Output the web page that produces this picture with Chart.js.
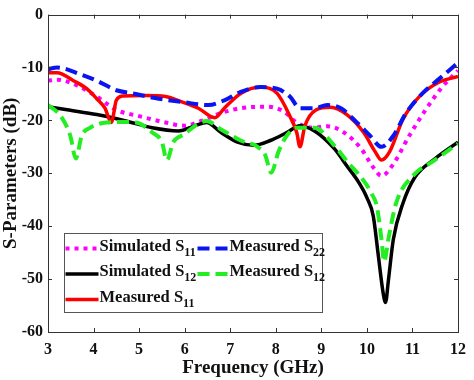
<!DOCTYPE html>
<html>
<head>
<meta charset="utf-8">
<script src="https://cdn.jsdelivr.net/npm/chart.js@4"></script>
<style>
  html, body { margin: 0; padding: 0; background: #fff; }
  #wrap { width: 474px; height: 380px; }
</style>
</head>
<body>
<div id="wrap"><canvas id="c" width="474" height="380"></canvas></div>
<script>
// series data (frequency in GHz, level in dB)
const simS11Freq = [3, 3.2, 3.64, 4.07, 4.5, 5.0, 5.58, 6.0, 6.37, 6.8, 7.23, 7.81, 8.17, 8.46, 8.81, 9.13, 9.5, 9.87, 10.15, 10.32, 10.57, 10.93, 11.29, 11.65, 12];
const simS11 = [-12.5, -12.3, -13.4, -15.5, -18, -19.2, -20.4, -21, -20.1, -18.6, -17.7, -17.4, -18.3, -20.4, -21.4, -21.1, -22.3, -25.3, -29, -30.5, -28.4, -22.9, -18, -13.7, -10.6];

const simS12Freq = [3, 3.42, 4.07, 4.71, 5.29, 5.86, 6.23, 6.48, 6.8, 7.16, 7.52, 7.88, 8.24, 8.53, 8.85, 9.28, 9.57, 9.82, 10.0, 10.14, 10.25, 10.36, 10.41, 10.47, 10.58, 10.79, 11.05, 11.5, 12];
const simS12 = [-17.4, -18, -18.9, -20.1, -21.4, -22, -21, -20.4, -22.3, -24.1, -24.7, -23.8, -22.3, -21, -22, -25.3, -28.7, -31.7, -34.6, -38.1, -45.5, -52.8, -54.4, -50.4, -42.5, -35.7, -30.8, -27.2, -24.1];

const measS11Freq = [3, 3.2, 3.56, 3.85, 4.07, 4.25, 4.39, 4.5, 4.64, 5.14, 5.58, 5.94, 6.3, 6.66, 6.87, 7.23, 7.67, 8.03, 8.31, 8.46, 8.53, 8.64, 8.89, 9.2, 9.56, 9.93, 10.18, 10.32, 10.5, 10.79, 11.15, 11.58, 12];
const measS11 = [-11, -11, -12.5, -14, -15.9, -17.7, -20.4, -16.2, -15.4, -15.3, -15.5, -16.5, -17.7, -19.5, -17.7, -14.9, -13.7, -14.9, -19.2, -22.3, -25, -21, -18, -17.5, -18.9, -22.3, -25.9, -27.5, -25.9, -19.8, -15.5, -12.8, -11.7];

const measS22Freq = [3, 3.2, 3.71, 4.07, 4.5, 4.86, 5.43, 5.94, 6.52, 6.87, 7.23, 7.67, 8.03, 8.31, 8.53, 8.85, 9.13, 9.43, 9.78, 10.07, 10.32, 10.58, 10.86, 11.22, 11.58, 12];
const measS22 = [-10.3, -10, -11.3, -12.5, -14.3, -14.9, -15.9, -16.5, -17.1, -16.2, -14.6, -13.7, -14, -15.5, -17.7, -17.7, -17.1, -17.7, -20.4, -22.9, -25, -22.9, -18.6, -14.9, -12.2, -9.1];

const measS12Freq = [3, 3.28, 3.49, 3.61, 3.74, 3.92, 4.28, 4.64, 4.93, 5.29, 5.5, 5.61, 5.75, 6.0, 6.23, 6.48, 6.8, 7.23, 7.6, 7.77, 7.9, 8.06, 8.24, 8.46, 8.85, 9.28, 9.57, 9.93, 10.1, 10.22, 10.32, 10.38, 10.47, 10.64, 11.04, 11.44, 12];
const measS12 = [-17.1, -19.2, -22.9, -27.2, -22.9, -21.4, -20.4, -20.3, -20.4, -22.3, -24.1, -27.5, -24.1, -22.6, -21, -20.1, -21.7, -23.8, -25, -26.6, -29.9, -25.9, -22.9, -21.4, -21.4, -24.7, -27.8, -31.4, -33.8, -36.3, -42.5, -46.7, -42.5, -35.7, -30.2, -27.8, -24.4];

const seriesNames = ['Simulated S', 'Simulated S', 'Measured S', 'Measured S', 'Measured S'];
const seriesSubs = ['11', '12', '11', '22', '12'];
const xTicks = [3, 4, 5, 6, 7, 8, 9, 10, 11, 12];
const yTicks = [-60, -50, -40, -30, -20, -10, 0];

const FONT = "'Liberation Serif', 'Times New Roman', serif";

function pts(fs, vs) {
  return fs.map((f, i) => ({ x: f, y: vs[i] }));
}

function line(i, data, color, width, dash, order) {
  return {
    label: seriesNames[i] + seriesSubs[i],
    data: data,
    borderColor: color,
    backgroundColor: color,
    borderWidth: width,
    borderDash: dash,
    borderCapStyle: 'butt',
    pointRadius: 0,
    fill: false,
    cubicInterpolationMode: 'monotone',
    order: order
  };
}

// frame with inward ticks on all four sides
const framePlugin = {
  id: 'frame',
  afterDatasetsDraw(chart) {
    const ctx = chart.ctx, a = chart.chartArea;
    const xs = chart.scales.x, ys = chart.scales.y;
    ctx.save();
    ctx.strokeStyle = '#333';
    ctx.lineWidth = 1;
    ctx.beginPath();
    xTicks.forEach(t => {
      const px = Math.round(xs.getPixelForValue(t)) + 0.5;
      ctx.moveTo(px, a.bottom); ctx.lineTo(px, a.bottom - 4);
      ctx.moveTo(px, a.top); ctx.lineTo(px, a.top + 4);
    });
    yTicks.forEach(t => {
      const py = Math.round(ys.getPixelForValue(t)) + 0.5;
      ctx.moveTo(a.left, py); ctx.lineTo(a.left + 4, py);
      ctx.moveTo(a.right, py); ctx.lineTo(a.right - 4, py);
    });
    ctx.stroke();
    ctx.strokeRect(Math.round(a.left) + 0.5, Math.round(a.top) + 0.5,
      Math.round(a.right - a.left), Math.round(a.bottom - a.top));
    ctx.restore();
  }
};

// boxed legend with subscripts
const legendSlots = [
  // dataset index, column, row
  [0, 0, 0], [3, 1, 0],
  [1, 0, 1], [4, 1, 1],
  [2, 0, 2]
];

const legendPlugin = {
  id: 'boxLegend',
  afterDraw(chart) {
    const ctx = chart.ctx, a = chart.chartArea;
    const bx = Math.round(a.left + 16) + 0.5, by = Math.round(a.top + 218) + 0.5;
    const bw = 258, bh = 79;
    ctx.save();
    ctx.fillStyle = '#fff';
    ctx.fillRect(bx, by, bw, bh);
    ctx.strokeStyle = '#555';
    ctx.lineWidth = 1;
    ctx.strokeRect(bx, by, bw, bh);
    const colX = [bx + 1, bx + 133];
    const lineW = [33, 31];
    legendSlots.forEach(([di, col, row]) => {
      const ds = chart.data.datasets[di];
      const base = by + 17 + row * 25.5;
      const lx = colX[col];
      ctx.save();
      ctx.strokeStyle = ds.borderColor;
      ctx.lineWidth = ds.borderWidth;
      ctx.setLineDash(ds.borderDash || []);
      ctx.beginPath();
      ctx.moveTo(lx, base - 2);
      ctx.lineTo(lx + lineW[col], base - 2);
      ctx.stroke();
      ctx.restore();
      ctx.fillStyle = '#111';
      ctx.textBaseline = 'alphabetic';
      ctx.font = 'bold 16.5px ' + FONT;
      const tx = lx + lineW[col] + 1;
      ctx.fillText(seriesNames[di], tx, base);
      const w = ctx.measureText(seriesNames[di]).width;
      ctx.font = 'bold 12px ' + FONT;
      ctx.fillText(seriesSubs[di], tx + w, base + 5);
    });
    ctx.restore();
  }
};

new Chart(document.getElementById('c'), {
  type: 'line',
  data: {
    datasets: [
      line(0, pts(simS11Freq, simS11), '#ff00ff', 4, [4, 5], 5),
      line(1, pts(simS12Freq, simS12), '#000000', 3.5, [], 4),
      line(2, pts(measS11Freq, measS11), '#ff0000', 3.5, [], 3),
      line(3, pts(measS22Freq, measS22), '#0a14f0', 4, [12, 6], 2),
      line(4, pts(measS12Freq, measS12), '#22ee22', 4, [12, 6], 1)
    ]
  },
  options: {
    responsive: false,
    animation: false,
    layout: { padding: { top: 5, right: 8, left: 0, bottom: 0 } },
    plugins: {
      legend: { display: false },
      tooltip: { enabled: false }
    },
    scales: {
      x: {
        type: 'linear',
        min: 3,
        max: 12,
        afterBuildTicks: s => { s.ticks = xTicks.map(v => ({ value: v })); },
        afterFit: s => { s.height = 48; },
        grid: { drawOnChartArea: false, drawTicks: false },
        border: { display: false },
        ticks: { color: '#111', padding: 8, font: { family: FONT, size: 16, weight: 'bold' } },
        title: {
          display: true,
          text: 'Frequency (GHz)',
          color: '#111',
          padding: { top: 0, bottom: 1 },
          font: { family: FONT, size: 19, weight: 'bold' }
        }
      },
      y: {
        type: 'linear',
        min: -60,
        max: 0,
        afterBuildTicks: s => { s.ticks = yTicks.map(v => ({ value: v })); },
        afterFit: s => { s.width = 48; },
        grid: { drawOnChartArea: false, drawTicks: false },
        border: { display: false },
        ticks: { color: '#111', padding: 5, font: { family: FONT, size: 16, weight: 'bold' } },
        title: {
          display: true,
          text: 'S-Parameters (dB)',
          color: '#111',
          padding: 0,
          font: { family: FONT, size: 19, weight: 'bold' }
        }
      }
    }
  },
  plugins: [framePlugin, legendPlugin]
});
</script>
</body>
</html>
